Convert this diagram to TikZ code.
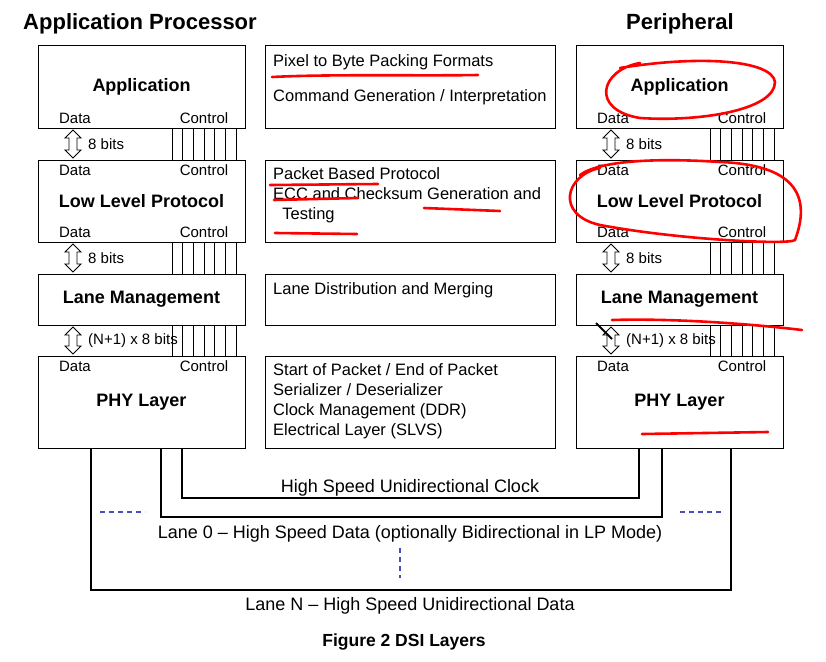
\documentclass[tikz,border=0pt]{standalone}
\usepackage{fontspec}
\setmainfont{Liberation Sans}
\begin{document}
\begin{tikzpicture}[x=1pt,y=-1pt,
  box/.style={draw,line width=1pt},
  ttl/.style={font=\bfseries\fontsize{18}{20}\selectfont},
  sm/.style={font=\fontsize{15}{17}\selectfont,inner sep=0pt},
  tx/.style={font=\fontsize{16.5}{20}\selectfont,inner sep=0pt,anchor=north west,align=left},
  ln/.style={font=\fontsize{18}{20}\selectfont,inner sep=0pt},
  hd/.style={font=\bfseries\fontsize{22}{24}\selectfont},
  bus/.style={line width=0.8pt},
  dsh/.style={draw=blue!60!black!70,dashed,line width=2pt,dash pattern=on 5pt off 4pt},
  red/.style={draw=red,line width=2.6pt,line cap=round}]
\useasboundingbox (0,0) rectangle (826,661);
\node[hd] (h1) at (140,24) {Application Processor};
\node[hd] (h2) at (680,24) {Peripheral};
\def\ys{46/128/Application/a,160/242/Low Level Protocol/b,274/325/Lane Management/c,356/448/PHY Layer/d}
\foreach \xa/\xb/\s in {38/245/L,576/783/R}{
  \foreach \ya/\yb/\t/\n in \ys{
    \draw[box] (\xa,\ya) rectangle (\xb,\yb);
    \node[ttl] (\s\n) at ({(\xa+\xb)/2},{(\ya+\yb)/2}) {\t};
  }
}
% middle
\foreach \ya/\yb in {46/128,160/242,274/325,356/448}{\draw[box] (265,\ya) rectangle (555,\yb);}
\node[tx] (m1) at (273,54) {Pixel to Byte Packing Formats\\[15pt]Command Generation / Interpretation};
\node[tx] (m2) at (273,167) {Packet Based Protocol\\ECC and Checksum Generation and\\\ \ Testing};
\node[tx] (m3) at (273,282) {Lane Distribution and Merging};
\node[tx] (m4) at (273,363) {Start of Packet / End of Packet\\Serializer / Deserializer\\Clock Management (DDR)\\Electrical Layer (SLVS)};
% data/control labels and buses
\foreach \xo/\s in {0/L,538/R}{
  \foreach \y in {118,232}{\node[sm] (d\s\y) at (75+\xo,\y) {Data}; \node[sm] (c\s\y) at (204+\xo,\y) {Control};}
  \foreach \y in {170,366}{\node[sm] (d\s\y) at (75+\xo,\y) {Data}; \node[sm] (c\s\y) at (204+\xo,\y) {Control};}
  \foreach \ya/\yb/\lab in {128/160/8 bits,242/274/8 bits,325/356/(N+1) x 8 bits}{
    \foreach \k in {0,...,6}{\draw[bus] ({172+\xo+\k*10.7},\ya) -- ({172+\xo+\k*10.7},\yb);}
    \draw[line width=0.8pt,fill=white] (73+\xo,\ya+2) -- (81+\xo,\ya+10) -- (77+\xo,\ya+10) -- (77+\xo,\yb-10) -- (81+\xo,\yb-10) -- (73+\xo,\yb-2) -- (65+\xo,\yb-10) -- (69+\xo,\yb-10) -- (69+\xo,\ya+10) -- (65+\xo,\ya+10) -- cycle;
    \node[sm,anchor=west] at (88+\xo,{(\ya+\yb)/2}) {\lab};
  }
}
% lanes
\draw[line width=2.2pt] (182,448) -- (182,498) -- (639,498) -- (639,448);
\draw[line width=2.2pt] (161,448) -- (161,517) -- (662,517) -- (662,448);
\draw[line width=2.2pt] (91,448) -- (91,590) -- (731,590) -- (731,448);
\node[ln] (l1) at (410,488) {High Speed Unidirectional Clock};
\node[ln] (l2) at (410,534) {Lane 0 -- High Speed Data (optionally Bidirectional in LP Mode)};
\node[ln] (l3) at (410,606) {Lane N -- High Speed Unidirectional Data};
\draw[dsh] (100,512) -- (145,512);
\draw[dsh] (680,512) -- (723,512);
\draw[dsh] (400,548) -- (400,578);
\node[font=\bfseries\fontsize{17.5}{20}\selectfont] (fig) at (404,642) {Figure 2 DSI Layers};
% red annotations
\draw[red] (272,77) .. controls (330,74) and (420,76) .. (478,75);
\draw[red] (270,185) -- (378,184);
\draw[red] (274,200) -- (358,198);
\draw[red] (424,208) -- (500,211);
\draw[red] (275,233) -- (357,234);
\draw[red] (640,63) .. controls (600,70) and (590,110) .. (640,118) .. controls (700,122) and (775,110) .. (775,82) .. controls (772,60) and (700,55) .. (620,68);
\draw[red] (600,168) .. controls (565,175) and (555,215) .. (600,225) .. controls (680,240) and (790,245) .. (795,240) .. controls (810,200) and (800,165) .. (720,162) .. controls (660,158) and (600,160) .. (580,175);
\draw[red] (612,320) .. controls (680,318) and (760,325) .. (802,330);
\draw[red] (642,434) -- (768,432);
\draw[line width=2pt] (596,323) -- (612,339);
\end{tikzpicture}
\end{document}
